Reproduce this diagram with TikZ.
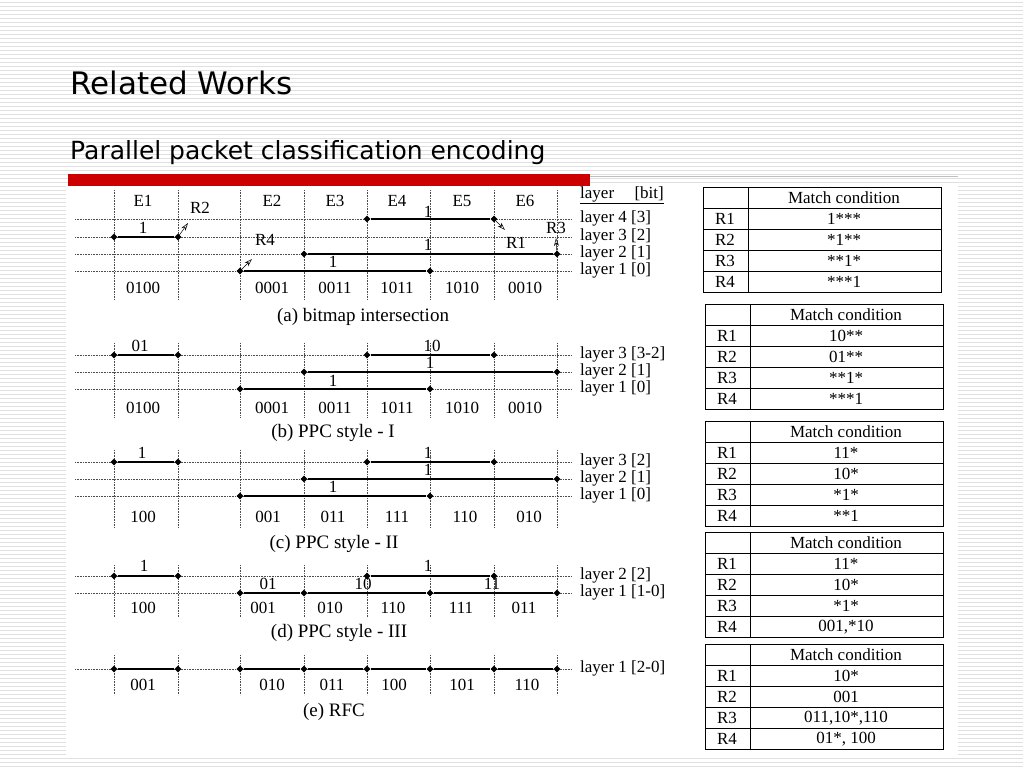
\documentclass[tikz,border=0pt]{standalone}
\usepackage{fontspec}
\setmainfont{Liberation Serif}
\newfontfamily\titlefont{DejaVu Sans}
\usetikzlibrary{arrows.meta,shapes.geometric}
\begin{document}
\begin{tikzpicture}[x=1pt,y=-1pt,
  grid/.style={densely dotted,line width=0.6pt,black!70},
  seg/.style={line width=1.2pt},
  dm/.style={diamond,fill=black,inner sep=0pt,minimum size=7pt},
  txt/.style={font=\fontsize{17}{17}\selectfont,inner sep=0pt},
  lay/.style={txt,anchor=west},
  captxt/.style={font=\fontsize{19}{19}\selectfont,inner sep=0pt},
  ptr/.style={-{Stealth[open,length=8pt,width=5pt]},line width=0.5pt},
  tab/.style={line width=0.8pt}]
\useasboundingbox (0,0) rectangle (1023,767);
\fill[white] (0,0) rectangle (1023,767);
\foreach \y in {2,6,...,766} \draw[black!12,line width=0.6pt] (0,\y) -- (1023,\y);
\fill[white] (66,186) rectangle (958,755);
% title
\node[anchor=base west,inner sep=0pt,font=\titlefont\fontsize{31}{31}\selectfont] (title) at (70,95) {Related Works};
\node[anchor=base west,inner sep=0pt,font=\titlefont\fontsize{25}{25}\selectfont] (sub) at (70,160) {Parallel packet classification encoding};
\fill[red!80!black] (68,174) rectangle (590,186);
\draw[black!25,line width=0.6pt] (590,176) -- (958,176);
% x positions
\def\Xa{114}\def\Xb{178}\def\Xc{240}\def\Xd{304}\def\Xe{367}\def\Xf{430}\def\Xg{494}\def\Xh{557}
% vertical grid lines
\foreach \t/\b in {190/300,343/418,450/528,565/617,655/695}
  \foreach \x in {\Xa,\Xb,\Xc,\Xd,\Xe,\Xf,\Xg,\Xh} \draw[grid] (\x,\t) -- (\x,\b);
% horizontal grid lines
\foreach \y in {219,237,254,271,355,372,389,462,479,496,576,593,669} \draw[grid] (75,\y) -- (572,\y);
% ---- (a)
\foreach \n/\x in {E1/143,E2/272,E3/335,E4/397,E5/462,E6/525} \node[txt] (h\n) at (\x,201) {\n};
\node[txt,anchor=west] (hdr) at (580,195) {\underline{layer\hspace{1.2em}[bit]}};
\node[lay] (la4) at (580,218) {layer 4 [3]};
\node[lay] (la3) at (580,236) {layer 3 [2]};
\node[lay] (la2) at (580,253) {layer 2 [1]};
\node[lay] (la1) at (580,270) {layer 1 [0]};
\node[dm] (a4s) at (\Xe,219) {}; \node[dm] (a4e) at (\Xg,219) {};
\node[dm] (a3s) at (\Xa,237) {}; \node[dm] (a3e) at (\Xb,237) {};
\node[dm] (a2s) at (\Xd,254) {}; \node[dm] (a2e) at (\Xh,254) {};
\node[dm] (a1s) at (\Xc,271) {}; \node[dm] (a1e) at (\Xf,271) {};
\draw[seg] (a4s) -- (a4e) (a3s) -- (a3e) (a2s) -- (a2e) (a1s) -- (a1e);
\node[txt] (a4l) at (428,212) {1}; \node[txt] (a3l) at (143,228) {1};
\node[txt] (a2l) at (428,245) {1}; \node[txt] (a1l) at (333,262) {1};
\coordinate (r2t) at (188,223); \coordinate (r1t) at (505,230);
\coordinate (r3t) at (556,238); \coordinate (r4t) at (252,259);
\draw[ptr] (a3e.center) -- (r2t); \draw[ptr] (a4e.center) -- (r1t);
\draw[ptr] (a2e.center) -- (r3t); \draw[ptr] (a1s.center) -- (r4t);
\node[txt] (R2) at (200,208) {R2}; \node[txt] (R1) at (516,243) {R1};
\node[txt] (R3) at (556,228) {R3}; \node[txt] (R4) at (265,240) {R4};
\foreach \v/\x [count=\i] in {0100/143,0001/272,0011/335,1011/397,1010/462,0010/525} \node[txt] (an\i) at (\x,288) {\v};
\node[captxt] (capa) at (363,317) {(a) bitmap intersection};
% ---- (b)
\node[lay] (lb3) at (580,354) {layer 3 [3-2]};
\node[lay] (lb2) at (580,371) {layer 2 [1]};
\node[lay] (lb1) at (580,388) {layer 1 [0]};
\node[dm] (b3s) at (\Xa,355) {}; \node[dm] (b3e) at (\Xb,355) {};
\node[dm] (b3t) at (\Xe,355) {}; \node[dm] (b3u) at (\Xg,355) {};
\node[dm] (b2s) at (\Xd,372) {}; \node[dm] (b2e) at (\Xh,372) {};
\node[dm] (b1s) at (\Xc,389) {}; \node[dm] (b1e) at (\Xf,389) {};
\draw[seg] (b3s) -- (b3e) (b3t) -- (b3u) (b2s) -- (b2e) (b1s) -- (b1e);
\node[txt] (b3l) at (140,346) {01}; \node[txt] (b3m) at (432,346) {10};
\node[txt] (b2l) at (430,363) {1}; \node[txt] (b1l) at (333,381) {1};
\foreach \v/\x [count=\i] in {0100/143,0001/272,0011/335,1011/397,1010/462,0010/525} \node[txt] (bn\i) at (\x,408) {\v};
\node[captxt] (capb) at (333,433) {(b) PPC style - I};
% ---- (c)
\node[lay] (lc3) at (580,461) {layer 3 [2]};
\node[lay] (lc2) at (580,478) {layer 2 [1]};
\node[lay] (lc1) at (580,495) {layer 1 [0]};
\node[dm] (c3s) at (\Xa,462) {}; \node[dm] (c3e) at (\Xb,462) {};
\node[dm] (c3t) at (\Xe,462) {}; \node[dm] (c3u) at (\Xg,462) {};
\node[dm] (c2s) at (\Xd,479) {}; \node[dm] (c2e) at (\Xh,479) {};
\node[dm] (c1s) at (\Xc,496) {}; \node[dm] (c1e) at (\Xf,496) {};
\draw[seg] (c3s) -- (c3e) (c3t) -- (c3u) (c2s) -- (c2e) (c1s) -- (c1e);
\node[txt] (c3l) at (142,453) {1}; \node[txt] (c3m) at (428,453) {1};
\node[txt] (c2l) at (428,470) {1}; \node[txt] (c1l) at (333,487) {1};
\foreach \v/\x [count=\i] in {100/143,001/268,011/333,111/397,110/465,010/529} \node[txt] (cn\i) at (\x,517) {\v};
\node[captxt] (capc) at (334,544) {(c) PPC style - II};
% ---- (d)
\node[lay] (ld2) at (580,575) {layer 2 [2]};
\node[lay] (ld1) at (580,592) {layer 1 [1-0]};
\node[dm] (d2s) at (\Xa,576) {}; \node[dm] (d2e) at (\Xb,576) {};
\node[dm] (d2t) at (\Xe,576) {}; \node[dm] (d2u) at (\Xg,576) {};
\node[dm] (d1a) at (\Xc,593) {}; \node[dm] (d1b) at (\Xd,593) {};
\node[dm] (d1c) at (\Xf,593) {}; \node[dm] (d1d) at (\Xh,593) {};
\draw[seg] (d2s) -- (d2e) (d2t) -- (d2u) (d1a) -- (d1b) -- (d1c) -- (d1d);
\node[txt] (d2l) at (144,566) {1}; \node[txt] (d2m) at (428,566) {1};
\node[txt] (d1l) at (268,584) {01}; \node[txt] (d1m) at (363,584) {10};
\node[txt] (d1n) at (492,584) {11};
\foreach \v/\x [count=\i] in {100/143,001/263,010/330,110/393,111/461,011/524} \node[txt] (dn\i) at (\x,608) {\v};
\node[captxt] (capd) at (339,633) {(d) PPC style - III};
% ---- (e)
\node[lay] (le1) at (580,668) {layer 1 [2-0]};
\node[dm] (e1) at (\Xa,669) {}; \node[dm] (e2) at (\Xb,669) {};
\node[dm] (e3) at (\Xc,669) {}; \node[dm] (e4) at (\Xd,669) {};
\node[dm] (e5) at (\Xe,669) {}; \node[dm] (e6) at (\Xf,669) {};
\node[dm] (e7) at (\Xg,669) {}; \node[dm] (e8) at (\Xh,669) {};
\draw[seg] (e1) -- (e2) (e3) -- (e4) -- (e5) -- (e6) -- (e7) -- (e8);
\foreach \v/\x [count=\i] in {001/143,010/272,011/332,100/394,101/462,110/527} \node[txt] (en\i) at (\x,685) {\v};
\node[captxt] (cape) at (334,712) {(e) RFC};
% ---- tables
\foreach \k/\L/\T/\a/\b/\c/\d in {
  1/703/187/{1***}/{*1**}/{**1*}/{***1},
  2/705/304/{10**}/{01**}/{**1*}/{***1},
  3/705/421/{11*}/{10*}/{*1*}/{**1},
  4/705/532/{11*}/{10*}/{*1*}/{001,*10},
  5/705/644/{10*}/{001}/{011,10*,110}/{01*, 100}} {
  \draw[tab] (\L,\T) rectangle ++(238,105);
  \foreach \r in {1,...,4} \draw[tab] (\L,\T+21*\r) -- ++(238,0);
  \draw[tab] (\L+45,\T) -- ++(0,105);
  \node[txt] (t\k h) at (\L+141,\T+11) {Match condition};
  \foreach \lab/\val [count=\r] in {R1/\a,R2/\b,R3/\c,R4/\d} {
    \node[txt] (t\k r\r) at (\L+22,\T+11+21*\r) {\lab};
    \node[txt] (t\k v\r) at (\L+141,\T+11+21*\r) {\val};
  }
}
\end{tikzpicture}
\end{document}
